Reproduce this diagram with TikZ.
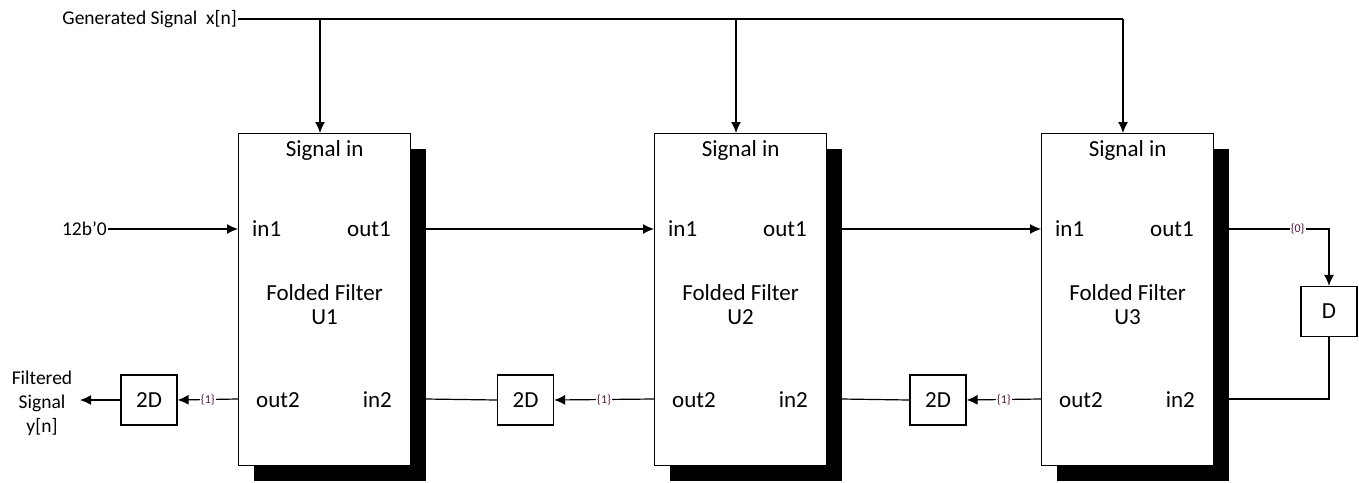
\documentclass[tikz,border=0pt]{standalone}
\usepackage{fontspec}
\setmainfont{Carlito}
\usetikzlibrary{shadows,arrows.meta,calc}

\definecolor{idxcol}{RGB}{90,20,60}

\tikzset{
  filterbox/.style={draw, fill=white, line width=1.2pt, inner sep=0pt,
    minimum width=172pt, minimum height=332pt, anchor=north west,
    drop shadow={shadow xshift=15pt, shadow yshift=-15pt, fill=black, opacity=1}},
  delaybox/.style={draw, fill=white, line width=1.2pt, inner sep=0pt,
    minimum width=56pt, minimum height=50pt, font=\fontsize{23}{26}\selectfont},
  port/.style={inner sep=0pt, font=\fontsize{23}{26}\selectfont},
  lbl/.style={inner sep=1pt, font=\fontsize{19.5}{24}\selectfont},
  idx/.style={inner sep=1pt, fill=white, text=idxcol, font=\fontsize{12}{14}\selectfont},
  wire/.style={line width=1.2pt},
  sig/.style={wire, -{Latex[length=11pt,width=10pt]}},
}

\begin{document}
\begin{tikzpicture}[x=1pt,y=-1pt]
  \useasboundingbox (0,0) rectangle (1359,482);

  % Folded filter blocks U1..U3
  \foreach \i/\x in {1/238,2/654,3/1041}{
    \node[filterbox] (u\i) at (\x,133) {};
    \node[port] (u\i-title) at ($(u\i.north)+(0,17)$) {Signal in};
    \node[port, anchor=west] (u\i-l1) at (\x+14,229) {in1};
    \node[port, anchor=east] (u\i-r1) at (\x+153,229) {out1};
    \node[port, align=center] (u\i-name) at ($(u\i.north)+(0,172)$) {Folded Filter\\[-2pt]U\i};
    \node[port, anchor=west] (u\i-l2) at (\x+18,400) {out2};
    \node[port, anchor=east] (u\i-r2) at (\x+154,400) {in2};
    % ports
    \coordinate (u\i-top) at (\x+82,133);
    \coordinate (u\i-bus) at (\x+82,19);
    \coordinate (u\i-in1) at (\x,229);
    \coordinate (u\i-out1) at (\x+187,229);
    \coordinate (u\i-out2) at (\x,399);
    \coordinate (u\i-in2) at (\x+187,399);
  }

  % Delay elements
  \node[delaybox] (dl1) at (149,400) {2D};
  \node[delaybox] (dl2) at (525.5,400) {2D};
  \node[delaybox] (dl3) at (938,400) {2D};
  \node[delaybox] (dd) at (1329,311.5) {D};

  % Inputs and output
  \node[lbl, anchor=east] (gen) at (238,19) {Generated Signal\ \ x[n]};
  \node[lbl, anchor=east] (zero) at (108,229) {12b’0};
  \node[lbl, align=center] (yout) at (42,403) {Filtered\\Signal\\y[n]};
  \coordinate (yend) at (80,400);

  % Input bus
  \draw[wire] (gen.east) -- (u3-bus);
  \foreach \i in {1,2,3}
    \draw[sig] (u\i-bus) -- (u\i-top);

  % Forward chain
  \draw[sig] (zero.east) -- (u1-in1);
  \draw[sig] (u1-out1) -- (u2-in1);
  \draw[sig] (u2-out1) -- (u3-in1);
  \draw[sig] (u3-out1) -- node[idx, pos=0.69] {\{0\}} (u3-out1 -| dd) -- (dd.north);
  \draw[wire] (dd.south) |- (u3-in2);

  % Backward chain
  \draw[sig] (u1-out2) -- node[idx] {\{1\}} (dl1.east);
  \draw[sig] (dl1.west) -- (yend);
  \draw[wire] (u1-in2) -- (dl2.west);
  \draw[sig] (u2-out2) -- node[idx] {\{1\}} (dl2.east);
  \draw[wire] (u2-in2) -- (dl3.west);
  \draw[sig] (u3-out2) -- node[idx] {\{1\}} (dl3.east);

\end{tikzpicture}
\end{document}
